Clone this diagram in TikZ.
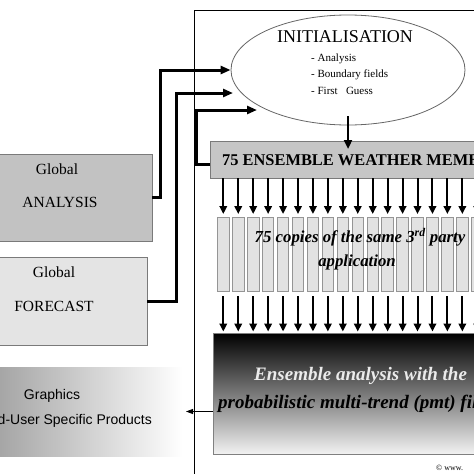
\documentclass[tikz,border=0pt]{standalone}
\usepackage{fontspec}
\setmainfont{Liberation Serif}
\newfontfamily\sansf{Liberation Sans}
\usetikzlibrary{arrows.meta,calc,shapes.geometric}
\definecolor{anafill}{HTML}{C2C2C2}
\definecolor{fcfill}{HTML}{E4E4E4}
\definecolor{ensfill}{HTML}{C6C6C6}
\definecolor{colfill}{HTML}{E2E2E2}
\definecolor{edge}{HTML}{7A7A7A}
\begin{document}
\begin{tikzpicture}[x=1pt,y=-1pt,
  box/.style={draw=edge,line width=1pt,inner sep=0pt,outer sep=0pt},
  colbox/.style={draw=edge!80,line width=0.8pt,fill=colfill,minimum width=11.5pt,minimum height=74pt,inner sep=0pt,outer sep=0pt},
  thickarrow/.style={line width=3pt,-{Triangle[length=10pt,width=8pt]}},
  downarrow/.style={line width=2pt,-{Triangle[length=8pt,width=7.5pt]}},
  thinarrow/.style={line width=0.8pt,-{Triangle[length=7pt,width=5pt]}},
  lbl/.style={inner sep=0pt,font=\fontsize{15.5}{17}\selectfont},
  bigital/.style={inner sep=0pt,font=\fontsize{16.8}{18}\selectfont\bfseries\itshape},
  gradtxt/.style={inner sep=0pt,anchor=west,font=\fontsize{19}{21}\selectfont\bfseries\itshape}
]
\useasboundingbox (0,0) rectangle (474,474);
\clip (0,0) rectangle (474,474);
\fill[white] (0,0) rectangle (474,474);

% outer frame
\draw[line width=1pt] (194,10) rectangle (530,530);

% left boxes
\node[box,fill=anafill,minimum width=157pt,minimum height=87pt] (ana) at (73.5,197.5) {};
\node[lbl] (anaA) at (57,169) {Global};
\node[lbl] (anaB) at (60,202) {ANALYSIS};
\node[box,fill=fcfill,minimum width=152pt,minimum height=88pt] (fc) at (71,301) {};
\node[lbl] (fcA) at (54,272) {Global};
\node[lbl] (fcB) at (54,306) {FORECAST};

% graphics box
\node[inner sep=0pt,outer sep=0pt,left color=gray!72,right color=white,minimum width=188pt,minimum height=89pt] (gfx) at (89,411.5) {};
\node[inner sep=0pt,font=\sansf\fontsize{14}{16}\selectfont] (gfxA) at (52,396) {Graphics};
\node[inner sep=0pt,anchor=east,font=\sansf\fontsize{14}{16}\selectfont] (gfxB) at (152,421) {End-User Specific Products};

% initialisation ellipse
\node[ellipse,draw=gray!80!black,line width=0.8pt,fill=white,minimum width=234pt,minimum height=110pt,inner sep=0pt] (init) at (348,70) {};
\node[inner sep=0pt,font=\fontsize{18}{20}\selectfont] (initT) at (345,37) {INITIALISATION};
\node[inner sep=0pt,anchor=west,font=\fontsize{11}{12}\selectfont] (i1) at (311,59) {- Analysis};
\node[inner sep=0pt,anchor=west,font=\fontsize{11}{12}\selectfont] (i2) at (311,75) {- Boundary fields};
\node[inner sep=0pt,anchor=west,font=\fontsize{11}{12}\selectfont] (i3) at (311,91) {- First\ \ \ Guess};

% ensemble members box
\node[box,fill=ensfill,minimum width=310pt,minimum height=37pt] (ens) at (365,159.5) {};
\node[inner sep=0pt,anchor=west,font=\fontsize{16.4}{18}\selectfont\bfseries] (ensT) at (222,160) {75 ENSEMBLE WEATHER MEMBERS};

% gradient analysis box
\node[draw=gray,line width=1pt,inner sep=0pt,outer sep=0pt,top color=black,bottom color=gray!10,middle color=gray!95!black,minimum width=307pt,minimum height=121pt] (grad) at (366.5,393.5) {};

% columns and arrows
\foreach \i in {0,...,17}{
  \node[colbox] (c\i) at ({223.3+14.94*\i},254) {};
  \draw[downarrow,shorten >=3pt] (c\i.north |- ens.south) -- (c\i.north);
  \draw[downarrow,shorten <=5pt,shorten >=1.5pt] (c\i.south) -- (c\i.south |- grad.north);
}

\node[bigital] (copA) at (360,237) {75 copies of the same 3\textsuperscript{rd} party};
\node[bigital] (copB) at (357,262) {application};

\node[gradtxt,text=white!92!black] (gA) at (254,376) {Ensemble analysis with the};
\node[gradtxt] (gB) at (218,404) {probabilistic multi-trend (pmt) filter};

% connectors
\coordinate (t2) at (233,93);
\coordinate (t3) at (257,110);
\draw[thickarrow] (ana.east) -- ++(8,0) |- (init.west);
\draw[thickarrow] (fc.east) -- ++(29,0) |- (t2);
\draw[thickarrow] ($(ens.west)+(0,4.5)$) -- ++(-14,0) |- (t3);
\draw[line width=2.5pt,-{Triangle[length=9pt,width=8pt]}] ([yshift=9pt]init.south) -- ([yshift=-8pt]init.south |- ens.north);
\draw[thinarrow,shorten >=3pt] (grad.west |- gfx.east) -- (gfx.east);

\node[inner sep=0pt,anchor=west,font=\fontsize{8}{9}\selectfont] (copy) at (436,468) {© www.};
\end{tikzpicture}
\end{document}
